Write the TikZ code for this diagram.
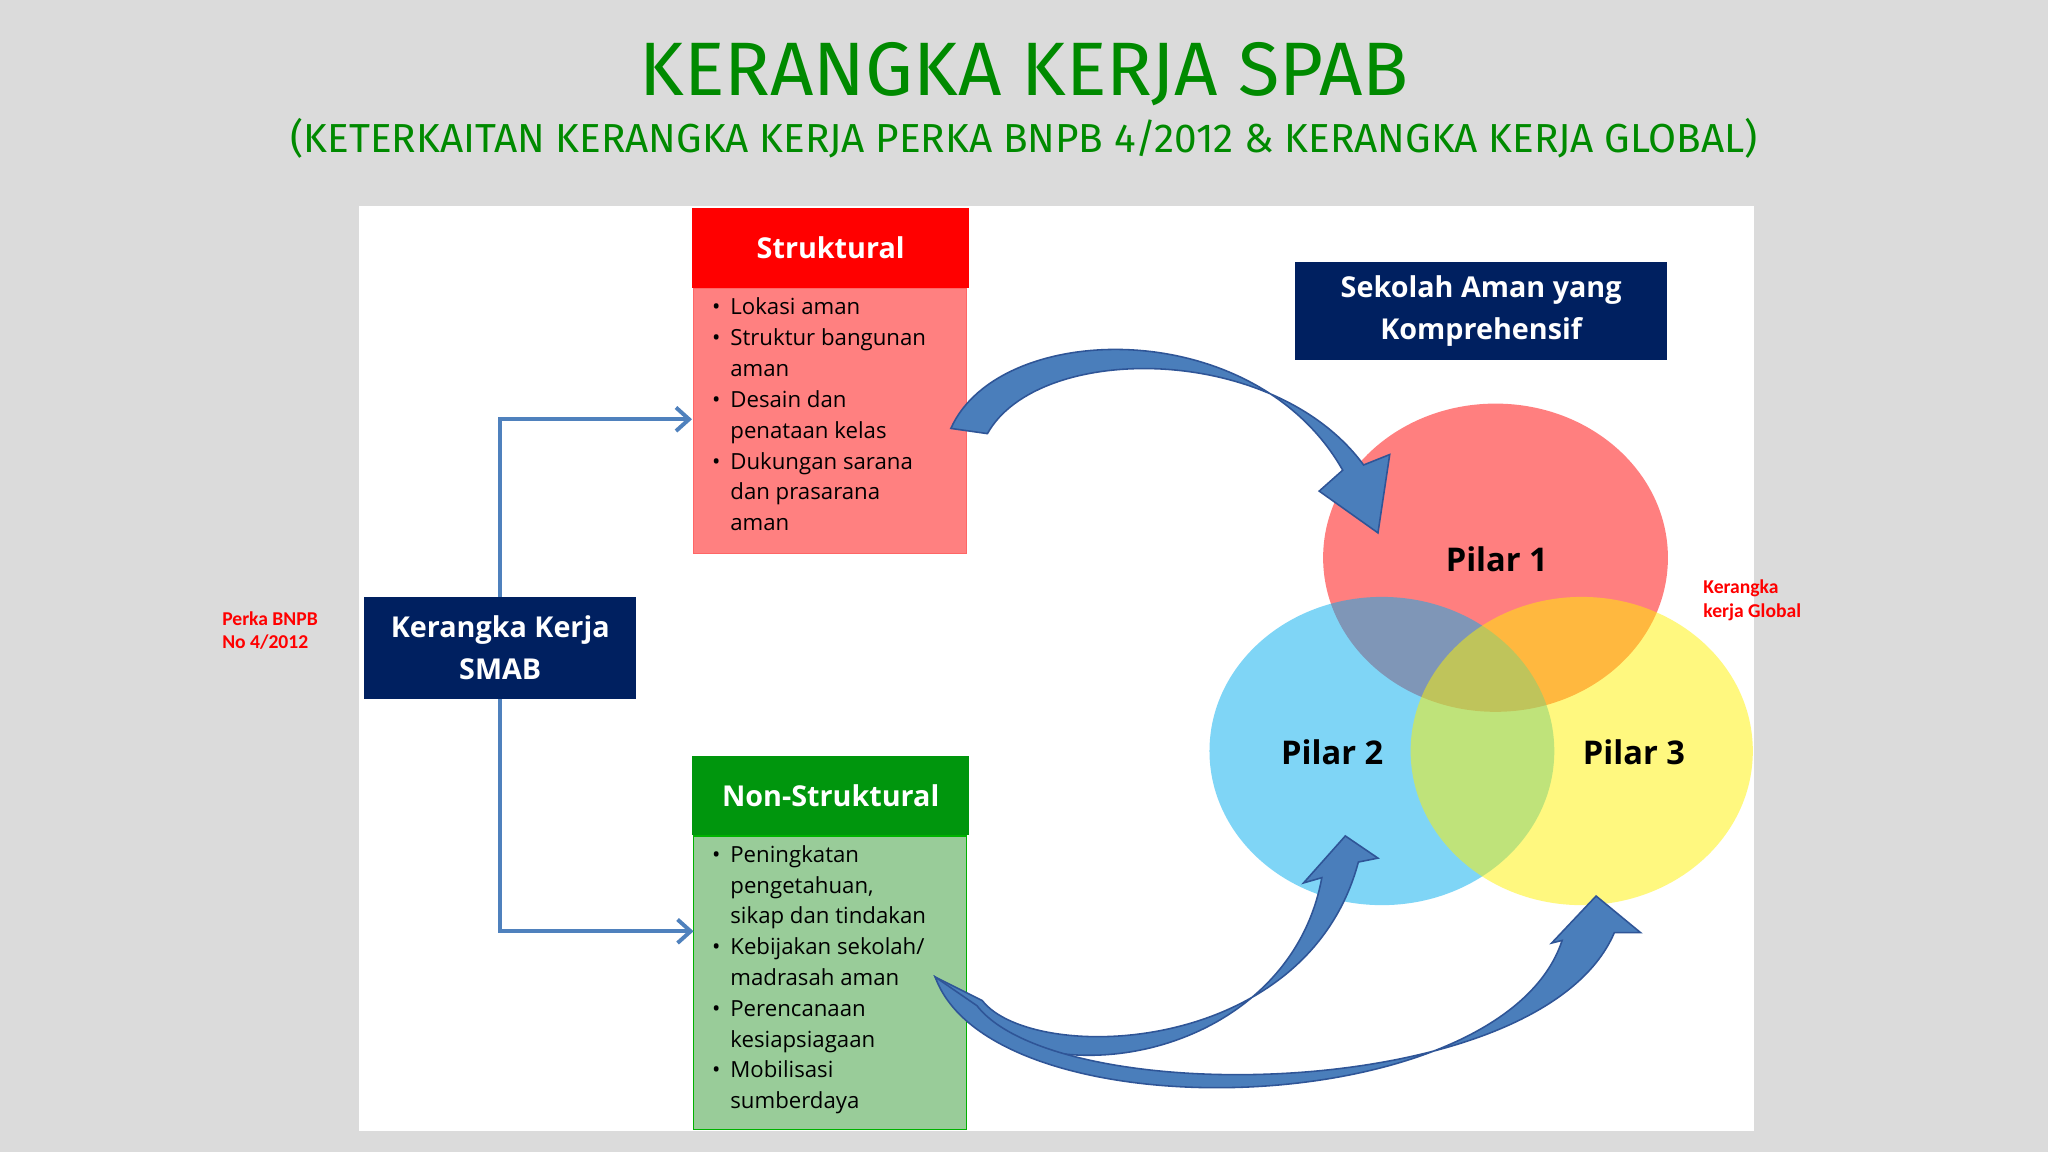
\documentclass[tikz,border=0pt]{standalone}
\usepackage{fontspec}
\setmainfont{Carlito}
\newfontfamily\titlefont{Fira Sans}
\newfontfamily\bodyfont{Open Sans}
\usetikzlibrary{arrows.meta}
\definecolor{navy}{HTML}{002060}
\definecolor{ttl}{HTML}{008A00}
\definecolor{ablue}{HTML}{4A7EBB}
\definecolor{ablued}{HTML}{2F5597}
\definecolor{lblue}{HTML}{4F81BD}
\tikzset{
 hdr/.style={minimum width=212pt,minimum height=61pt,text=white,font=\bodyfont\fontsize{22}{26}\selectfont\bfseries},
 bodytext/.style={align=left,anchor=north west,inner sep=0pt,font=\bodyfont\fontsize{17}{23.6}\selectfont},
 navybox/.style={fill=navy,text=white,align=center,font=\bodyfont\fontsize{22}{32}\selectfont\bfseries},
 conn/.style={lblue,line width=3pt,-{Straight Barb[length=10pt,width=18pt]}},
 blockarrow/.style={fill=ablue,draw=ablued,line width=1.2pt},
 pilar/.style={font=\bodyfont\fontsize{25}{30}\selectfont\bfseries},
 redlbl/.style={text=red,font=\fontsize{15}{18}\selectfont\bfseries,align=left,anchor=north west,inner sep=0pt}
}
\newcommand{\bu}{\makebox[14pt][l]{\textbullet}}
\newcommand{\ind}{\hspace*{14pt}}
\begin{document}
\begin{tikzpicture}[x=1pt,y=-1pt]
\useasboundingbox (0,0) rectangle (1568,882);
\fill[gray!28] (0,0) rectangle (1568,882);
\fill[white] (275,158) rectangle (1343,866);
\node[text=ttl,font=\titlefont\fontsize{58}{60}\selectfont] (t1) at (784,57) {KERANGKA KERJA SPAB};
\node[text=ttl,font=\titlefont\fontsize{31}{32}\selectfont] (t2) at (784,106) {(KETERKAITAN KERANGKA KERJA PERKA BNPB 4/2012 \& KERANGKA KERJA GLOBAL)};
% circles
\fill[red,opacity=0.5] (1145,427) ellipse [x radius=132,y radius=118];
\fill[cyan,opacity=0.5] (1058,575) ellipse [x radius=132,y radius=118];
\fill[yellow,opacity=0.5] (1211,575) ellipse [x radius=131,y radius=118];
\node[pilar] (p1) at (1146,428) {Pilar 1};
\node[pilar] (p2) at (1020,576) {Pilar 2};
\node[pilar] (p3) at (1251,576) {Pilar 3};
% boxes
\node[hdr,fill=red] (sh) at (636,190) {Struktural};
\filldraw[fill=red!50,draw=red!60,line width=1pt] (531,221) rectangle (740,424);
\node[bodytext] (sb) at (545,228) {\bu Lokasi aman\\\bu Struktur bangunan\\\ind aman\\\bu Desain dan\\\ind penataan kelas\\\bu Dukungan sarana\\\ind dan prasarana\\\ind aman};
\node[hdr,fill=green!60!black!90!teal] (nh) at (636,609) {Non-Struktural};
\filldraw[fill=green!50!black!40!white,draw=green!70!black,line width=1pt] (531,640) rectangle (740,865);
\node[bodytext] (nb) at (545,647) {\bu Peningkatan\\\ind pengetahuan,\\\ind sikap dan tindakan\\\bu Kebijakan sekolah/\\\ind madrasah aman\\\bu Perencanaan\\\ind kesiapsiagaan\\\bu Mobilisasi\\\ind sumberdaya};
\node[navybox,minimum width=208pt,minimum height=78pt] (sm) at (383,496) {Kerangka Kerja\\SMAB};
\node[navybox,minimum width=285pt,minimum height=75pt] (sk) at (1134,238) {Sekolah Aman yang\\Komprehensif};
\node[redlbl] (l1) at (170,468) {Perka BNPB\\No 4/2012};
\node[redlbl] (l2) at (1304,444) {Kerangka\\kerja Global};
% connectors
\coordinate (c1) at (383,321);
\coordinate (c2) at (383,713);
\draw[conn] (sm.north) -- (c1) -- (sh.west |- c1);
\draw[conn] (sm.south) -- (c2) -- (531,713);
% block arrows
\draw[blockarrow] (728,328) .. controls (765,245) and (960,240) .. (1028,360)
 -- (1010,376) -- (1055,408) -- (1064,348) -- (1044,356)
 .. controls (975,262) and (795,262) .. (756,332) -- cycle;
\draw[blockarrow] (716,748) .. controls (770,850) and (985,820) .. (1012,672)
 -- (998,676) -- (1030,640) -- (1055,657) -- (1040,660)
 .. controls (1000,810) and (790,815) .. (752,766) -- cycle;
\draw[blockarrow] (716,748) .. controls (760,870) and (1150,860) .. (1196,720)
 -- (1188,722) -- (1222,686) -- (1256,714) -- (1236,714)
 .. controls (1180,845) and (810,850) .. (748,770) -- cycle;
\end{tikzpicture}
\end{document}
